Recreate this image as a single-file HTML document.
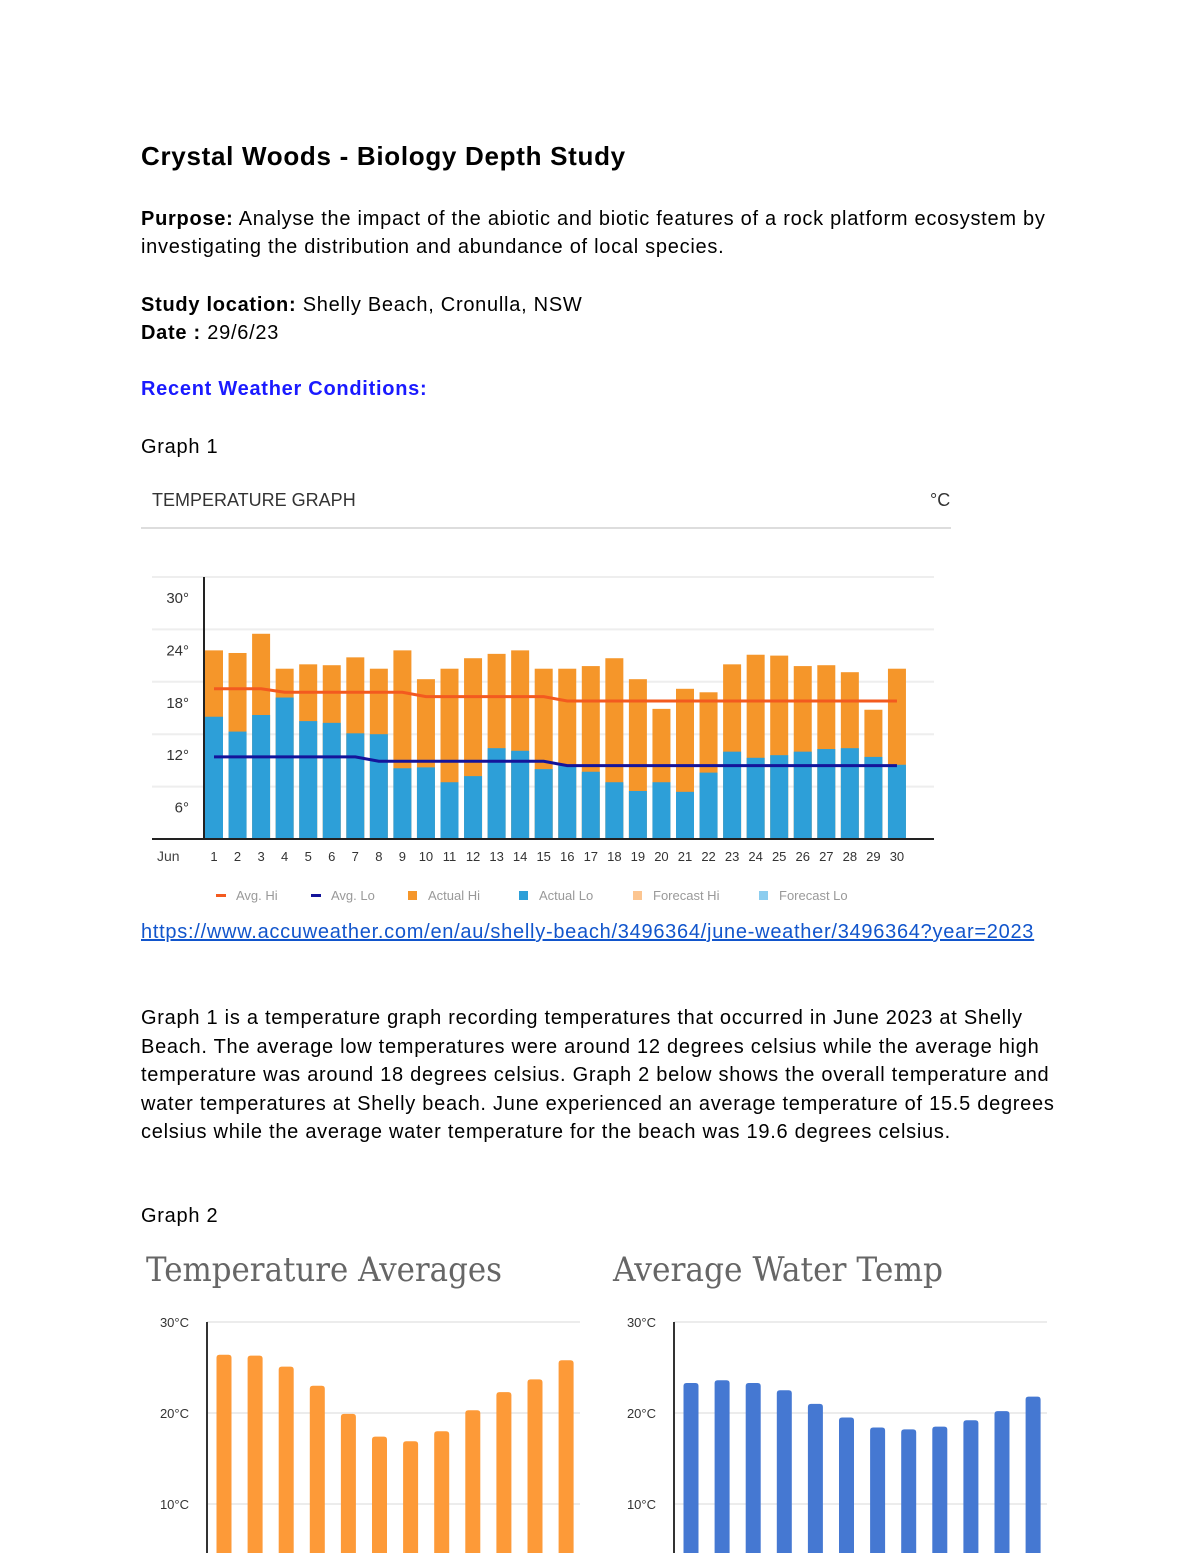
<!DOCTYPE html>
<html><head><meta charset="utf-8"><style>
body{margin:0;width:1200px;height:1553px;position:relative;background:#fff;font-family:"Liberation Sans",Arial,sans-serif;color:#000;overflow:hidden}
.t{position:absolute;left:141px;font-size:20px;line-height:28px;white-space:nowrap;letter-spacing:0.73px}
svg{position:absolute;left:0;top:0}
</style></head><body>
<div class="t" style="top:142px;font-size:26px;font-weight:bold;letter-spacing:0.7px">Crystal Woods - Biology Depth Study</div>
<div class="t" style="top:205px"><b>Purpose:</b> Analyse the impact of the abiotic and biotic features of a rock platform ecosystem by<br>investigating the distribution and abundance of local species.</div>
<div class="t" style="top:291px"><b>Study location:</b> Shelly Beach, Cronulla, NSW</div>
<div class="t" style="top:319px"><b>Date :</b> 29/6/23</div>
<div class="t" style="top:375px;color:#1a1aff;font-weight:bold">Recent Weather Conditions:</div>
<div class="t" style="top:433px">Graph 1</div>
<a class="t" style="top:918px;color:#1155cc;text-decoration:underline">https://www.accuweather.com/en/au/shelly-beach/3496364/june-weather/3496364?year=2023</a>
<div class="t" style="top:1004px;line-height:28.6px">Graph 1 is a temperature graph recording temperatures that occurred in June 2023 at Shelly<br>Beach. The average low temperatures were around 12 degrees celsius while the average high<br>temperature was around 18 degrees celsius. Graph 2 below shows the overall temperature and<br>water temperatures at Shelly beach. June experienced an average temperature of 15.5 degrees<br>celsius while the average water temperature for the beach was 19.6 degrees celsius.</div>
<div class="t" style="top:1202px">Graph 2</div>

<svg id="c" width="1200" height="1553"></svg>
<script>
const days=[1,2,3,4,5,6,7,8,9,10,11,12,13,14,15,16,17,18,19,20,21,22,23,24,25,26,27,28,29,30];
const actualHi=[21.6,21.3,23.5,19.5,20,19.9,20.8,19.5,21.6,18.3,19.5,20.7,21.2,21.6,19.5,19.5,19.8,20.7,18.3,14.9,17.2,16.8,20,21.1,21,19.8,19.9,19.1,14.8,19.5];
const actualLo=[14,12.3,14.2,16.2,13.5,13.3,12.1,12,8.1,8.2,6.5,7.2,10.4,10.1,8,8.4,7.7,6.5,5.5,6.5,5.4,7.6,10,9.3,9.6,10,10.3,10.4,9.4,8.5];
const avgHi=[17.2,17.2,17.2,16.8,16.8,16.8,16.8,16.8,16.8,16.3,16.3,16.3,16.3,16.3,16.3,15.8,15.8,15.8,15.8,15.8,15.8,15.8,15.8,15.8,15.8,15.8,15.8,15.8,15.8,15.8];
const avgLo=[9.4,9.4,9.4,9.4,9.4,9.4,9.4,8.9,8.9,8.9,8.9,8.9,8.9,8.9,8.9,8.4,8.4,8.4,8.4,8.4,8.4,8.4,8.4,8.4,8.4,8.4,8.4,8.4,8.4,8.4];
const ticks1=[6,12,18,24,30];
const months=[1,2,3,4,5,6,7,8,9,10,11,12];
const airAvg=[26.4,26.3,25.1,23,19.9,17.4,16.9,18,20.3,22.3,23.7,25.8];
const waterAvg=[23.3,23.6,23.3,22.5,21,19.5,18.4,18.2,18.5,19.2,20.2,21.8];
const ticks2=[10,20,30];

const svg=document.getElementById('c');const NS='http://www.w3.org/2000/svg';
function mk(tag,attrs,parent){const e=document.createElementNS(NS,tag);for(const k in attrs)e.setAttribute(k,attrs[k]);(parent||svg).appendChild(e);return e;}
function txt(s,attrs){const e=mk('text',attrs);e.textContent=s;return e;}

// Chart 1
const y1=v=>839-v*8.733;
const x1=d=>214+(d-1)*23.55;
let e=txt('TEMPERATURE GRAPH',{x:152,y:506,'font-size':18,fill:'#333','font-family':'Liberation Sans Narrow, Liberation Sans, sans-serif'});


e=txt('°C',{x:930,y:506,'font-size':18,fill:'#333'});


mk('line',{x1:141,x2:951,y1:528,y2:528,stroke:'#ddd','stroke-width':2});
ticks1.forEach(t=>{
  mk('line',{x1:152,x2:934,y1:y1(t),y2:y1(t),stroke:'#eee','stroke-width':2});
  const l=txt(t+'°',{x:189,y:y1(t)+26,'font-size':15,fill:'#333','text-anchor':'end','font-family':'Liberation Sans Narrow, Liberation Sans, sans-serif'});
  
  
});
days.forEach((d,i)=>{
  const hi=mk('rect',{x:x1(d)-9,y:y1(actualHi[i]),width:18,height:839-y1(actualHi[i]),fill:'#f5962a'});
  
  
  const lo=mk('rect',{x:x1(d)-9,y:y1(actualLo[i]),width:18,height:839-y1(actualLo[i]),fill:'#2d9fd8'});
  
  
  const l=txt(String(d),{x:x1(d),y:861,'font-size':13,fill:'#333','text-anchor':'middle','font-family':'Liberation Sans Narrow, Liberation Sans, sans-serif'});
  
  
});
e=mk('polyline',{points:days.map((d,i)=>x1(d)+','+y1(avgHi[i])).join(' '),fill:'none',stroke:'#f35a1f','stroke-width':3});


e=mk('polyline',{points:days.map((d,i)=>x1(d)+','+y1(avgLo[i])).join(' '),fill:'none',stroke:'#14149a','stroke-width':3});


mk('line',{x1:204,x2:204,y1:577,y2:839,stroke:'#222','stroke-width':2});
mk('line',{x1:152,x2:934,y1:839,y2:839,stroke:'#222','stroke-width':2});
txt('Jun',{x:157,y:861,'font-size':14,fill:'#444'});
const leg=[['Avg. Hi','line','#f35a1f',216],['Avg. Lo','line','#14149a',311],['Actual Hi','box','#f5962a',408],['Actual Lo','box','#2d9fd8',519],['Forecast Hi','box','#fcc590',633],['Forecast Lo','box','#8ccdef',759]];
leg.forEach(([n,t,c,x])=>{
  const g=mk('g',{});
  
  
  if(t==='line')mk('rect',{x:x,y:894,width:10,height:3,fill:c},g);else mk('rect',{x:x,y:891,width:9,height:9,fill:c},g);
  const s=mk('text',{x:x+20,y:900,'font-size':13,fill:'#999','font-family':'Liberation Sans Narrow, Liberation Sans, sans-serif'},g);s.textContent=n;
});

// Graph 2 charts
function barChart(ox,title,tw,vals,color,name){
  const y=v=>1595-v*9.1;
  const t=txt(title,{x:ox-61,y:1281,'font-size':34,fill:'#666','font-family':'DejaVu Serif, Liberation Serif, serif',textLength:tw,lengthAdjust:'spacingAndGlyphs'});
  
  
  ticks2.forEach(v=>{
    mk('line',{x1:ox,x2:ox+373,y1:y(v),y2:y(v),stroke:'#e6e6e6','stroke-width':1.5});
    const l=txt(v+'°C',{x:ox-18,y:y(v)+5,'font-size':13,fill:'#333','text-anchor':'end'});
    
    
  });
  months.forEach((m,i)=>{
    const cx=ox+17+(m-1)*31.1;
    const b=mk('path',{d:`M${cx-7.5},1560 V${y(vals[i])+3} Q${cx-7.5},${y(vals[i])} ${cx-4.5},${y(vals[i])} H${cx+4.5} Q${cx+7.5},${y(vals[i])} ${cx+7.5},${y(vals[i])+3} V1560 Z`,fill:color});
    
    
  });
  mk('line',{x1:ox,x2:ox,y1:1322,y2:1560,stroke:'#333','stroke-width':2});
}
barChart(207,'Temperature Averages',356,airAvg,'#fd9a38','air-temp');
barChart(674,'Average Water Temp',330,waterAvg,'#4578d2','water-temp');
</script>
</body></html>
